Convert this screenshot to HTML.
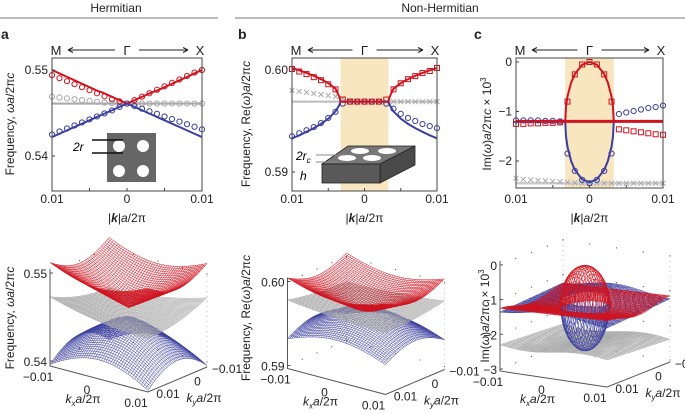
<!DOCTYPE html>
<html><head><meta charset="utf-8"><style>
html,body{margin:0;padding:0;background:#fff;}
svg{display:block;font-family:"Liberation Sans",sans-serif;}
</style></head><body>
<svg id="fig" width="685" height="414" viewBox="0 0 685 414" xmlns="http://www.w3.org/2000/svg">
<g font-size="12" fill="#222">
<text x="116" y="12" text-anchor="middle">Hermitian</text>
<line x1="0" y1="18" x2="218" y2="18" stroke="#777" stroke-width="1"/>
<text x="440" y="12" text-anchor="middle">Non-Hermitian</text>
<line x1="235" y1="18" x2="685" y2="18" stroke="#777" stroke-width="1"/>
<text x="1" y="39" font-weight="bold" font-size="14">a</text>
<text x="238" y="39" font-weight="bold" font-size="14">b</text>
<text x="474" y="39" font-weight="bold" font-size="14">c</text>
</g>
<g id="top"></g>
<g id="insets">
<g>
<rect x="107" y="133" width="49" height="49" fill="#666"/>
<circle cx="119" cy="146" r="6" fill="#fff"/><circle cx="143" cy="146" r="6" fill="#fff"/>
<circle cx="119" cy="171" r="6" fill="#fff"/><circle cx="143" cy="171" r="6" fill="#fff"/>
<line x1="92" y1="140" x2="123" y2="140" stroke="#111" stroke-width="1.5"/>
<line x1="92" y1="153" x2="123" y2="153" stroke="#111" stroke-width="1.5"/>
<text x="73" y="151" font-size="12" font-style="italic">2r</text>
</g>
<g>
<polygon points="322,164 348,146 415,146 380,164" fill="#777" stroke="#222" stroke-width="0.8"/>
<polygon points="380,164 415,146 415,165 380,183" fill="#4a4a4a" stroke="#222" stroke-width="0.8"/>
<rect x="322" y="164" width="58" height="19" fill="#595959" stroke="#222" stroke-width="0.8"/>
<ellipse cx="360" cy="151" rx="9" ry="3" fill="#fff"/><ellipse cx="387" cy="151" rx="9" ry="3" fill="#fff"/>
<ellipse cx="347" cy="158" rx="9" ry="3" fill="#fff"/><ellipse cx="372" cy="158" rx="9" ry="3" fill="#fff"/>
<line x1="316" y1="155" x2="345" y2="155" stroke="#888" stroke-width="1"/>
<line x1="316" y1="162" x2="340" y2="162" stroke="#888" stroke-width="1"/>
<text x="296" y="160" font-size="12" font-style="italic">2r<tspan font-size="8" dy="3">c</tspan></text>
<text x="300" y="180" font-size="12" font-style="italic">h</text>
</g>
</g>
<g id="bottom"></g>
</svg>
<script>
// ---------- top row data ----------
const kLine = [-1,-0.9,-0.8,-0.7,-0.6,-0.5,-0.4,-0.35,-0.33,0,0.33,0.35,0.4,0.5,0.6,0.7,0.8,0.9,1];
const kMark = [-1,-0.9,-0.8,-0.7,-0.6,-0.5,-0.4,-0.3,-0.2,-0.1,0,0.1,0.2,0.3,0.4,0.5,0.6,0.7,0.8,0.9,1];
// panel a (Hermitian)
const aRedLine = [0.5500,0.5496,0.5492,0.5488,0.5484,0.5480,0.5476,0.54745,0.54739,0.5461,0.54739,0.54745,0.5476,0.5480,0.5484,0.5488,0.5492,0.5496,0.5500];
const aBlueLine = [0.5422,0.54259,0.54298,0.54337,0.54376,0.54415,0.54454,0.54474,0.54481,0.5461,0.54481,0.54474,0.54454,0.54415,0.54376,0.54337,0.54298,0.54259,0.5422];
const aGrayLine = [0.5461,0.5461,0.5461,0.5461,0.5461,0.5461,0.5461,0.5461,0.5461,0.5461,0.5461,0.5461,0.5461,0.5461,0.5461,0.5461,0.5461,0.5461,0.5461];
const aRedMark = [0.5494,0.54905,0.5487,0.54835,0.548,0.54765,0.5473,0.54695,0.5466,0.54635,0.5461,0.5465,0.5469,0.5473,0.5477,0.5481,0.5485,0.5489,0.5493,0.5497,0.5500];
const aBlueMark = [0.5425,0.54285,0.5432,0.54355,0.5439,0.54425,0.5446,0.54495,0.5453,0.5457,0.5461,0.5458,0.5455,0.5452,0.5449,0.5446,0.5443,0.544,0.5437,0.5434,0.5431];
const aGrayMark = [0.5469,0.5468,0.5467,0.5466,0.5465,0.5464,0.5463,0.5462,0.54615,0.5461,0.5461,0.5461,0.5461,0.5461,0.5461,0.5461,0.5461,0.5461,0.5461,0.5461,0.5461];
// panel b (Re)
const bRedLine = [0.6002,0.59997,0.59971,0.59943,0.5991,0.59871,0.59817,0.59742,0.5969,0.5969,0.5969,0.59742,0.59817,0.59871,0.5991,0.59943,0.59971,0.59997,0.6002];
const bBlueLine = [0.5933,0.5936,0.59394,0.5943,0.59472,0.59523,0.59594,0.59653,0.5969,0.5969,0.5969,0.59653,0.59594,0.59523,0.59472,0.5943,0.59394,0.5936,0.5933];
const bGrayLine = [0.5969,0.5969,0.5969,0.5969,0.5969,0.5969,0.5969,0.5969,0.5969,0.5969,0.5969,0.5969,0.5969,0.5969,0.5969,0.5969,0.5969,0.5969,0.5969];
const bRedMark = [0.6001,0.59985,0.5996,0.5993,0.599,0.5986,0.5981,0.5971,0.5969,0.5969,0.5969,0.5969,0.5969,0.5971,0.5981,0.5987,0.5991,0.5994,0.5997,0.5999,0.6002];
const bBlueMark = [0.5935,0.5938,0.5941,0.5944,0.5948,0.5953,0.5959,0.5967,0.5969,0.5969,0.5969,0.5969,0.5969,0.5967,0.5962,0.5957,0.5953,0.595,0.5947,0.5945,0.5943];
const bGrayMark = [0.5980,0.5979,0.5978,0.5977,0.5976,0.5975,0.5974,0.5972,0.5970,0.5969,0.5969,0.5969,0.5969,0.5969,0.5969,0.5969,0.5969,0.5969,0.5969,0.5969,0.5969];
// panel c (Im)
const kEll = [-0.33,-0.32,-0.3,-0.25,-0.2,-0.1,0,0.1,0.2,0.25,0.3,0.32,0.33];
const cRedEll = [-1.2,-0.907,-0.70,-0.416,-0.246,-0.056,0,-0.056,-0.246,-0.416,-0.70,-0.907,-1.2];
const cBlueEll = [-1.2,-1.5,-1.71,-2.0,-2.18,-2.37,-2.43,-2.37,-2.18,-2.0,-1.71,-1.5,-1.2];
const cFlatK = [-1,-0.33,0.33,1];
const cRedFlat = [-1.2,-1.2,-1.2,-1.2];
const cGrayFlat = [-2.45,-2.45,-2.45,-2.45];
const cRedMark = [-1.25,-1.25,-1.24,-1.24,-1.23,-1.23,-1.22,-0.8,-0.25,-0.05,0,-0.05,-0.25,-0.8,-1.36,-1.38,-1.40,-1.42,-1.44,-1.46,-1.47];
const cBlueMark = [-1.18,-1.18,-1.18,-1.18,-1.19,-1.19,-1.2,-1.85,-2.2,-2.38,-2.45,-2.38,-2.2,-1.85,-1.05,-1.02,-0.99,-0.96,-0.93,-0.91,-0.88];
const cGrayMark = [-2.35,-2.37,-2.38,-2.39,-2.4,-2.41,-2.42,-2.43,-2.44,-2.45,-2.45,-2.45,-2.45,-2.45,-2.45,-2.45,-2.45,-2.45,-2.45,-2.45,-2.45];
// ticks
const aYTicks = [0.54,0.55], aYTickLabels = ["0.54","0.55"];
const bYTicks = [0.59,0.60], bYTickLabels = ["0.59","0.60"];
const cYTicks = [-2,-1,0], cYTickLabels = ["\u22122","\u22121","0"];
const xTicks = [-1,0,1], xTickLabels = ["0.01","0","0.01"];

const NS="http://www.w3.org/2000/svg";
function el(tag,attrs,parent){const e=document.createElementNS(NS,tag);for(const k in attrs)e.setAttribute(k,attrs[k]);if(parent)parent.appendChild(e);return e;}
const RED="#d0131f", BLUE="#3b3f9e", GRAY="#aaa";

function topPanel(P){
  const g=el('g',{},document.getElementById('top'));
  
  
  const X=k=>P.x0+(k+1)/2*(P.x1-P.x0);
  const Y=v=>P.yA+(v-P.vA)*(P.yB-P.yA)/(P.vB-P.vA);
  if(P.shade){const s=el('rect',{x:X(-P.shade),y:P.top,width:X(P.shade)-X(-P.shade),height:P.bot-P.top,fill:'#f7e6bf'},g);
    
    }
  function line(ks,vs,col,w,name){const p=el('polyline',{points:ks.map((k,i)=>X(k)+','+Y(vs[i])).join(' '),fill:'none',stroke:col,'stroke-width':w},g);
    
    }
  function marks(vs,col,shape,name,from,to){const mg=el('g',{fill:'none',stroke:col,'stroke-width':1},g);
    
    
    kMark.forEach((k,i)=>{if(k<from||k>to)return;const x=X(k),y=Y(vs[i]);
      if(shape==='o')el('circle',{cx:x,cy:y,r:2.6},mg);
      else if(shape==='s')el('rect',{x:x-2.5,y:y-2.5,width:5,height:5},mg);
      else el('path',{d:`M${x-2.5},${y-2.5}L${x+2.5},${y+2.5}M${x-2.5},${y+2.5}L${x+2.5},${y-2.5}`},mg);});}
  P.draw(line,marks);
  const b=el('rect',{x:P.x0,y:P.top,width:P.x1-P.x0,height:P.bot-P.top,fill:'none',stroke:'#444','stroke-width':1},g);
  
  
  xTicks.forEach((k,i)=>{const x=X(k);
    el('line',{x1:x,y1:P.bot,x2:x,y2:P.bot-3,stroke:'#444'},g);
    const t=el('text',{x:x,y:203,'text-anchor':'middle','font-size':12,fill:'#222'},g);t.textContent=xTickLabels[i];
    
    });
  [-0.5,0.5].forEach(k=>el('line',{x1:X(k),y1:P.bot,x2:X(k),y2:P.bot-3,stroke:'#444'},g));
  P.yt.forEach((v,i)=>{const y=Y(v);el('line',{x1:P.x0,y1:y,x2:P.x0+3,y2:y,stroke:'#444'},g);
    const t=el('text',{x:P.x0-4,y:y+4,'text-anchor':'end','font-size':12,fill:'#222'},g);t.textContent=P.ytl[i];
    
    });
  const cx=X(0);
  const h=el('g',{'font-size':13,fill:'#222'},g);
  
  
  el('text',{x:X(-1)+4,y:55,'text-anchor':'middle'},h).textContent='M';
  el('text',{x:cx,y:55,'text-anchor':'middle'},h).textContent='\u0393';
  el('text',{x:X(1)-2,y:55,'text-anchor':'middle'},h).textContent='X';
  el('path',{d:`M${X(-1)+16},50H${cx-12}M${X(-1)+16},50l5,-2.5M${X(-1)+16},50l5,2.5M${cx+12},50H${X(1)-14}M${X(1)-14},50l-5,-2.5M${X(1)-14},50l-5,2.5`,stroke:'#222',fill:'none','stroke-width':1},h);
  const xl=el('text',{x:cx,y:222,'text-anchor':'middle','font-size':12,fill:'#222'},g);
  xl.innerHTML='|<tspan font-weight="bold" font-style="italic">k</tspan>|<tspan font-style="italic">a</tspan>/2\u03c0';
  
  
  const yl=el('text',{x:0,y:0,'text-anchor':'middle','font-size':12,fill:'#222',transform:`translate(${P.ylx},${P.yly}) rotate(-90)`},g);
  yl.innerHTML=P.ylab;
  
  
}

topPanel({name:'panel-a-bands',x0:52,x1:202,top:58,bot:191,vA:0.55,yA:70,vB:0.54,yB:156,yt:aYTicks,ytl:aYTickLabels,ylx:14,yly:124,
  ylab:'Frequency, <tspan font-style="italic">\u03c9a</tspan>/2\u03c0<tspan font-style="italic">c</tspan>',
  draw:(line,marks)=>{line(kLine,aGrayLine,GRAY,2.2,'gray-band-line');
    marks(aGrayMark,GRAY,'o','gray-band-markers',-1,1);
    marks(aRedMark,RED,'o','red-band-markers',-1,1);
    marks(aBlueMark,BLUE,'o','blue-band-markers',-1,1);
    line(kLine,aRedLine,RED,2,'red-band-line');line(kLine,aBlueLine,BLUE,2,'blue-band-line');}});
topPanel({name:'panel-b-real-bands',x0:292,x1:437,top:58,bot:191,shade:0.33,vA:0.60,yA:70,vB:0.59,yB:172,yt:bYTicks,ytl:bYTickLabels,ylx:250,yly:124,
  ylab:'Frequency, Re(<tspan font-style="italic">\u03c9</tspan>)<tspan font-style="italic">a</tspan>/2\u03c0<tspan font-style="italic">c</tspan>',
  draw:(line,marks)=>{line(kLine,bGrayLine,'#bbb',2,'gray-band-line');
    marks(bGrayMark,GRAY,'x','gray-band-markers',-1,1);
    line(kLine,bBlueLine,BLUE,2,'blue-band-line');line(kLine,bRedLine,RED,2,'red-band-line');
    marks(bBlueMark,BLUE,'o','blue-band-markers',-1,1);
    marks(bRedMark,RED,'s','red-band-markers',-1,1);}});
topPanel({name:'panel-c-imag-bands',x0:516,x1:663,top:58,bot:188,shade:0.33,vA:0,yA:62,vB:-1,yB:111.5,yt:cYTicks,ytl:cYTickLabels,ylx:491,yly:124,
  ylab:'Im(<tspan font-style="italic">\u03c9</tspan>)<tspan font-style="italic">a</tspan>/2\u03c0<tspan font-style="italic">c</tspan> \u00d7 10<tspan font-size="8" dy="-5">3</tspan>',
  draw:(line,marks)=>{line(cFlatK,cGrayFlat,'#ccc',2.5,'gray-band-line');
    marks(cGrayMark,GRAY,'x','gray-band-markers',-1,1);
    line(kEll,cBlueEll,BLUE,2,'blue-ellipse-half');line(kEll,cRedEll,RED,2,'red-ellipse-half');
    line(cFlatK,cRedFlat,RED,3,'red-flat-line');
    marks(cBlueMark,BLUE,'o','blue-band-markers',-1,1);
    marks(cRedMark,RED,'s','red-band-markers',-1,1);}});

// ---------- bottom row 3D surfaces ----------
const kx3 = [-0.01,0,0.01], kxLabels=["\u22120.01","0","0.01"];
const ky3 = [0.01,0,-0.01], kyLabels=["0.01","0","\u22120.01"];
const aSurfCenter = [0.5461,0.5455,0.5451]; // red, gray, blue at k=0
const aSurfSlope = [0.0036,0.0009,-0.0035];
const bSurfCenter = [0.5969,0.5970,0.5969];
const bSurfSlope = [0.0029,0.0004,-0.0030];
const cFlat = [-1.3,-2.35,-1.2]; // red, gray, blue away from Γ
const cPeak = [-0.15,-2.6]; // red max, blue min
const a3Ticks=[0.54,0.55], a3Labels=["0.54","0.55"];
const b3Ticks=[0.59,0.60], b3Labels=["0.59","0.60"];
const c3Ticks=[-3,-2,-1,0], c3Labels=["\u22123","\u22122","\u22121","0"];

function panel3d(P){
  const g=el('g',{},document.getElementById('bottom'));
  
  
  const ex=P.ex, ev=P.ev;
  const pr=(u,v,z)=>[P.cx+ex[0]*u+ev[0]*v, P.cy+ex[1]*u+ev[1]*v-(z-P.zmin)*P.zs];
  const zb=P.zmin-P.pad/P.zs;
  const dg=el('g',{fill:'#555'},g);
  
  
  for(let i=-1;i<=1;i+=0.5)for(const zz of P.zt){[[-1,i],[i,-1]].forEach(([u,v])=>{const p=pr(u,v,zz);el('circle',{cx:p[0],cy:p[1],r:0.6},dg);});}
  const back=pr(-1,-1,zb), backT=pr(-1,-1,P.zt[P.zt.length-1]);
  const R=pr(1,-1,zb),RT=pr(1,-1,P.zt[P.zt.length-1]);
  el('line',{x1:R[0],y1:R[1],x2:RT[0],y2:RT[1],stroke:'#999','stroke-width':0.6,'stroke-dasharray':'1,4'},g);
  el('line',{x1:back[0],y1:back[1],x2:backT[0],y2:backT[1],stroke:'#999','stroke-width':0.6,'stroke-dasharray':'1,4'},g);
  P.surfs.forEach(S=>{
    const sg=el('g',{fill:'none',stroke:S.col,'stroke-width':S.w||0.5},g);
    
    
    const N=S.n||44;
    for(let i=0;i<=N;i++){const a=-1+2*i/N;let d1='',d2='';
      for(let j=0;j<=N;j++){const b=-1+2*j/N;
        const p=pr(a,b,S.f(a,b)), q=pr(b,a,S.f(b,a));
        d1+=(j?'L':'M')+p[0].toFixed(1)+','+p[1].toFixed(1);
        d2+=(j?'L':'M')+q[0].toFixed(1)+','+q[1].toFixed(1);}
      el('path',{d:d1},sg);el('path',{d:d2},sg);}
  });
  const L=pr(-1,1,zb),F=pr(1,1,zb),LT=pr(-1,1,P.zt[P.zt.length-1]);
  const ax=el('path',{d:`M${LT[0]},${LT[1]-4}L${L[0]},${L[1]}L${F[0]},${F[1]}L${R[0]},${R[1]}`,fill:'none',stroke:'#555','stroke-width':1},g);
  
  
  P.zt.forEach((z,i)=>{const p=pr(-1,1,z);el('line',{x1:p[0],y1:p[1],x2:p[0]+3,y2:p[1],stroke:'#555'},g);
    const t=el('text',{x:p[0]-3,y:p[1]+5,'text-anchor':'end','font-size':12,fill:'#222'},g);t.textContent=P.zl[i];
    
    });
  kx3.forEach((k,i)=>{const p=pr(k*100,1,zb);
    const t=el('text',{x:p[0]-12,y:p[1]+15,'text-anchor':'middle','font-size':12,fill:'#222'},g);t.textContent=kxLabels[i];
    
    });
  ky3.forEach((k,i)=>{const p=pr(1,k*100,zb);
    const t=el('text',{x:p[0]+20,y:p[1]+6,'text-anchor':'middle','font-size':12,fill:'#222'},g);t.textContent=kyLabels[i];
    
    });
  const kxT=pr(0,1,zb);
  const t1=el('text',{x:kxT[0]-16,y:kxT[1]+24,'text-anchor':'middle','font-size':12,fill:'#222'},g);
  t1.innerHTML='<tspan font-style="italic">k</tspan><tspan font-size="8" dy="3" font-style="italic">x</tspan><tspan dy="-3" font-style="italic">a</tspan>/2\u03c0';
  
  
  const t2=el('text',{x:F[0]+56,y:F[1]+10,'text-anchor':'middle','font-size':12,fill:'#222'},g);
  t2.innerHTML='<tspan font-style="italic">k</tspan><tspan font-size="8" dy="3" font-style="italic">y</tspan><tspan dy="-3" font-style="italic">a</tspan>/2\u03c0';
  
  
  const yl=el('text',{x:0,y:0,'text-anchor':'middle','font-size':12,fill:'#222',transform:`translate(${P.ylx},${P.yly}) rotate(-90)`},g);
  yl.innerHTML=P.ylab;
  
  
}
const rr=(u,v)=>Math.sqrt(u*u+v*v);
const EX=[49,13], EV=[-29.5,12.5];
panel3d({name:'panel-a-surface',cx:128.5,cy:361.5,pad:5,ex:EX,ev:EV,zmin:0.54,zs:8800,zt:a3Ticks,zl:a3Labels,ylx:14,yly:318,
  ylab:'Frequency, <tspan font-style="italic">\u03c9a</tspan>/2\u03c0<tspan font-style="italic">c</tspan>',
  surfs:[{name:'blue-surface',col:BLUE,f:(u,v)=>aSurfCenter[2]+aSurfSlope[2]*Math.pow(rr(u,v),1.3)},
         {name:'gray-surface',col:GRAY,f:(u,v)=>aSurfCenter[1]+aSurfSlope[1]*(u-v)*(u-v)/2},
         {name:'red-surface',col:RED,f:(u,v)=>aSurfCenter[0]+aSurfSlope[0]*rr(u,v)}]});
panel3d({name:'panel-b-surface',cx:366,cy:366,pad:3,ex:EX,ev:EV,zmin:0.59,zs:8400,zt:b3Ticks,zl:b3Labels,ylx:250,yly:318,
  ylab:'Frequency, Re(<tspan font-style="italic">\u03c9</tspan>)<tspan font-style="italic">a</tspan>/2\u03c0<tspan font-style="italic">c</tspan>',
  surfs:[{name:'blue-surface',col:BLUE,f:(u,v)=>bSurfCenter[2]+bSurfSlope[2]*Math.pow(Math.max(0,rr(u,v)-0.2),1.1)},
         {name:'gray-surface',col:GRAY,f:(u,v)=>bSurfCenter[1]+bSurfSlope[1]*(u-v)*(u-v)/2},
         {name:'red-surface',col:RED,f:(u,v)=>bSurfCenter[0]+bSurfSlope[0]*Math.max(0,rr(u,v)-0.2)}]});
const bump=(u,v)=>{const r=rr(u,v);return r<0.4?Math.sqrt(1-(r/0.4)*(r/0.4)):0;};
panel3d({name:'panel-c-surface',cx:585,cy:364.5,pad:2,ex:[53.5,8],ev:[-31.5,12.5],zmin:-3,zs:34.7,zt:c3Ticks,zl:c3Labels,ylx:489,yly:316,
  ylab:'Im(<tspan font-style="italic">\u03c9</tspan>)<tspan font-style="italic">a</tspan>/2\u03c0<tspan font-style="italic">c</tspan> \u00d7 10<tspan font-size="8" dy="-5">3</tspan>',
  surfs:[{name:'gray-surface',col:GRAY,f:(u,v)=>cFlat[1]+0.08*Math.sin(3*u)+0.06*v},
         {name:'blue-surface',col:BLUE,n:48,f:(u,v)=>{const b=bump(u,v);return b>0?cFlat[2]+(cPeak[1]-cFlat[2])*b:cFlat[2]+0.1*Math.cos(3*u)-0.06*v;}},
         {name:'red-surface',col:RED,n:48,f:(u,v)=>{const b=bump(u,v);return b>0?cFlat[0]+(cPeak[0]-cFlat[0])*b:cFlat[0]-0.1*Math.cos(3*v)+0.05*u;}}]});
</script>
</body></html>
